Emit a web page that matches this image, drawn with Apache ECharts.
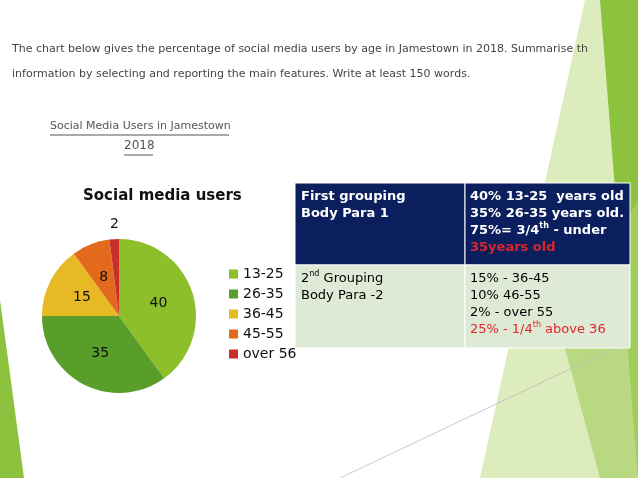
<!DOCTYPE html>
<html><head><meta charset="utf-8">
<script src="https://cdn.jsdelivr.net/npm/echarts@6/dist/echarts.min.js"></script>
<style>html,body{margin:0;padding:0;background:#fff}#c{width:638px;height:478px}</style>
</head><body><div id="c"></div>
<script>
var ageGroups = ['13-25', '26-35', '36-45', '45-55', 'over 56'];
var userShares = [40, 35, 15, 8, 2];
var sliceColors = ['#8dbf2a', '#5a9e2a', '#e6b925', '#e3691d', '#c9302a'];

var chart = echarts.init(document.getElementById('c'));
var font = 'DejaVu Sans';
var sup = {fontFamily: font, fontSize: 8, verticalAlign: 'top'};
var red = {fontFamily: font, fill: '#e0262b', fontSize: 13};

function txt(x, y, text, opt) {
    opt = opt || {};
    return {type: 'text', left: x, top: y, z: 10, style: {
        text: text, fill: opt.fill || '#000', font: (opt.weight || 'normal') + ' ' + (opt.size || 13) + 'px "' + font + '"',
        lineHeight: opt.lh || 17, rich: opt.rich
    }};
}

var graphics = [
    {type: 'polygon', shape: {points: [[0, 300], [24, 478], [0, 478]]}, style: {fill: '#8dc23f'}},
    {type: 'polygon', shape: {points: [[585, 0], [638, 0], [638, 478], [480, 478]]}, style: {fill: '#c5e08f', opacity: 0.6}},
    {type: 'polygon', shape: {points: [[600, 0], [638, 0], [638, 478]]}, style: {fill: '#8dc23f'}},
    {type: 'polygon', shape: {points: [[560, 330], [638, 200], [638, 478], [600, 478]]}, style: {fill: '#a9d06a', opacity: 0.7}},
    {type: 'line', shape: {x1: 340, y1: 478, x2: 610, y2: 350}, style: {stroke: '#bbb', lineWidth: 0.8}},
    txt(12, 41, 'The chart below gives the percentage of social media users by age in Jamestown in 2018. Summarise th', {size: 11, fill: '#444'}),
    txt(12, 66, 'information by selecting and reporting the main features. Write at least 150 words.', {size: 11, fill: '#444'}),
    {type: 'text', left: 50, top: 121, style: {text: 'Social Media Users in Jamestown', fill: '#555', font: '11px "' + font + '"'}},
    {type: 'line', shape: {x1: 50, y1: 135, x2: 229, y2: 135}, style: {stroke: '#555', lineWidth: 1}},
    {type: 'text', left: 124, top: 140, style: {text: '2018', fill: '#555', font: '12px "' + font + '"'}},
    {type: 'line', shape: {x1: 124, y1: 155, x2: 153, y2: 155}, style: {stroke: '#555', lineWidth: 1}},
    {type: 'rect', shape: {x: 295, y: 183, width: 170, height: 82}, style: {fill: '#0b1f5e', stroke: '#fff', lineWidth: 1}},
    {type: 'rect', shape: {x: 465, y: 183, width: 165, height: 82}, style: {fill: '#0b1f5e', stroke: '#fff', lineWidth: 1}},
    {type: 'rect', shape: {x: 295, y: 265, width: 170, height: 83}, style: {fill: '#dfead6', stroke: '#fff', lineWidth: 1}},
    {type: 'rect', shape: {x: 465, y: 265, width: 165, height: 83}, style: {fill: '#dfead6', stroke: '#fff', lineWidth: 1}},
    txt(301, 188, 'First grouping\nBody Para 1', {fill: '#fff', weight: 'bold'}),
    txt(470, 188, '40% 13-25  years old\n35% 26-35 years old.\n75%= 3/4{s|th} - under\n{r|35years old}',
        {fill: '#fff', weight: 'bold', rich: {
            s: {fontFamily: font, fill: '#fff', fontSize: 8, fontWeight: 'bold', verticalAlign: 'top'},
            r: {fontFamily: font, fill: '#d9262b', fontSize: 13, fontWeight: 'bold'}}}),
    txt(301, 270, '2{s|nd} Grouping\nBody Para -2', {rich: {s: sup}}),
    txt(470, 270, '15% - 36-45\n10% 46-55\n2% - over 55\n{r|25% - 1/4}{rs|th}{r| above 36}',
        {rich: {s: sup, r: red, rs: {fontFamily: font, fill: '#e0262b', fontSize: 8, verticalAlign: 'top'}}})
];

chart.setOption({
    title: {text: 'Social media users', left: 78, top: 184, textStyle: {fontFamily: font, fontSize: 15, fontWeight: 'bold', color: '#111'}},
    color: sliceColors,
    legend: {
        orient: 'vertical', left: 224, top: 262, itemWidth: 9, itemHeight: 9, itemGap: 6, icon: 'rect',
        textStyle: {fontFamily: font, fontSize: 14, color: '#111'}, data: ageGroups
    },
    graphic: graphics,
    series: [{
        type: 'pie', center: [119, 316], radius: 77, startAngle: 90, clockwise: true,
        animation: false,
        label: {show: true, position: 'inside', fontFamily: font, fontSize: 14, color: '#111', formatter: '{c}'},
        labelLine: {show: false},
        itemStyle: {borderWidth: 0},
        data: ageGroups.map(function (n, i) {
            var d = {name: n, value: userShares[i]};
            if (i === 4) d.label = {offset: [-2, -50]};
            return d;
        })
    }]
});
</script></body></html>
